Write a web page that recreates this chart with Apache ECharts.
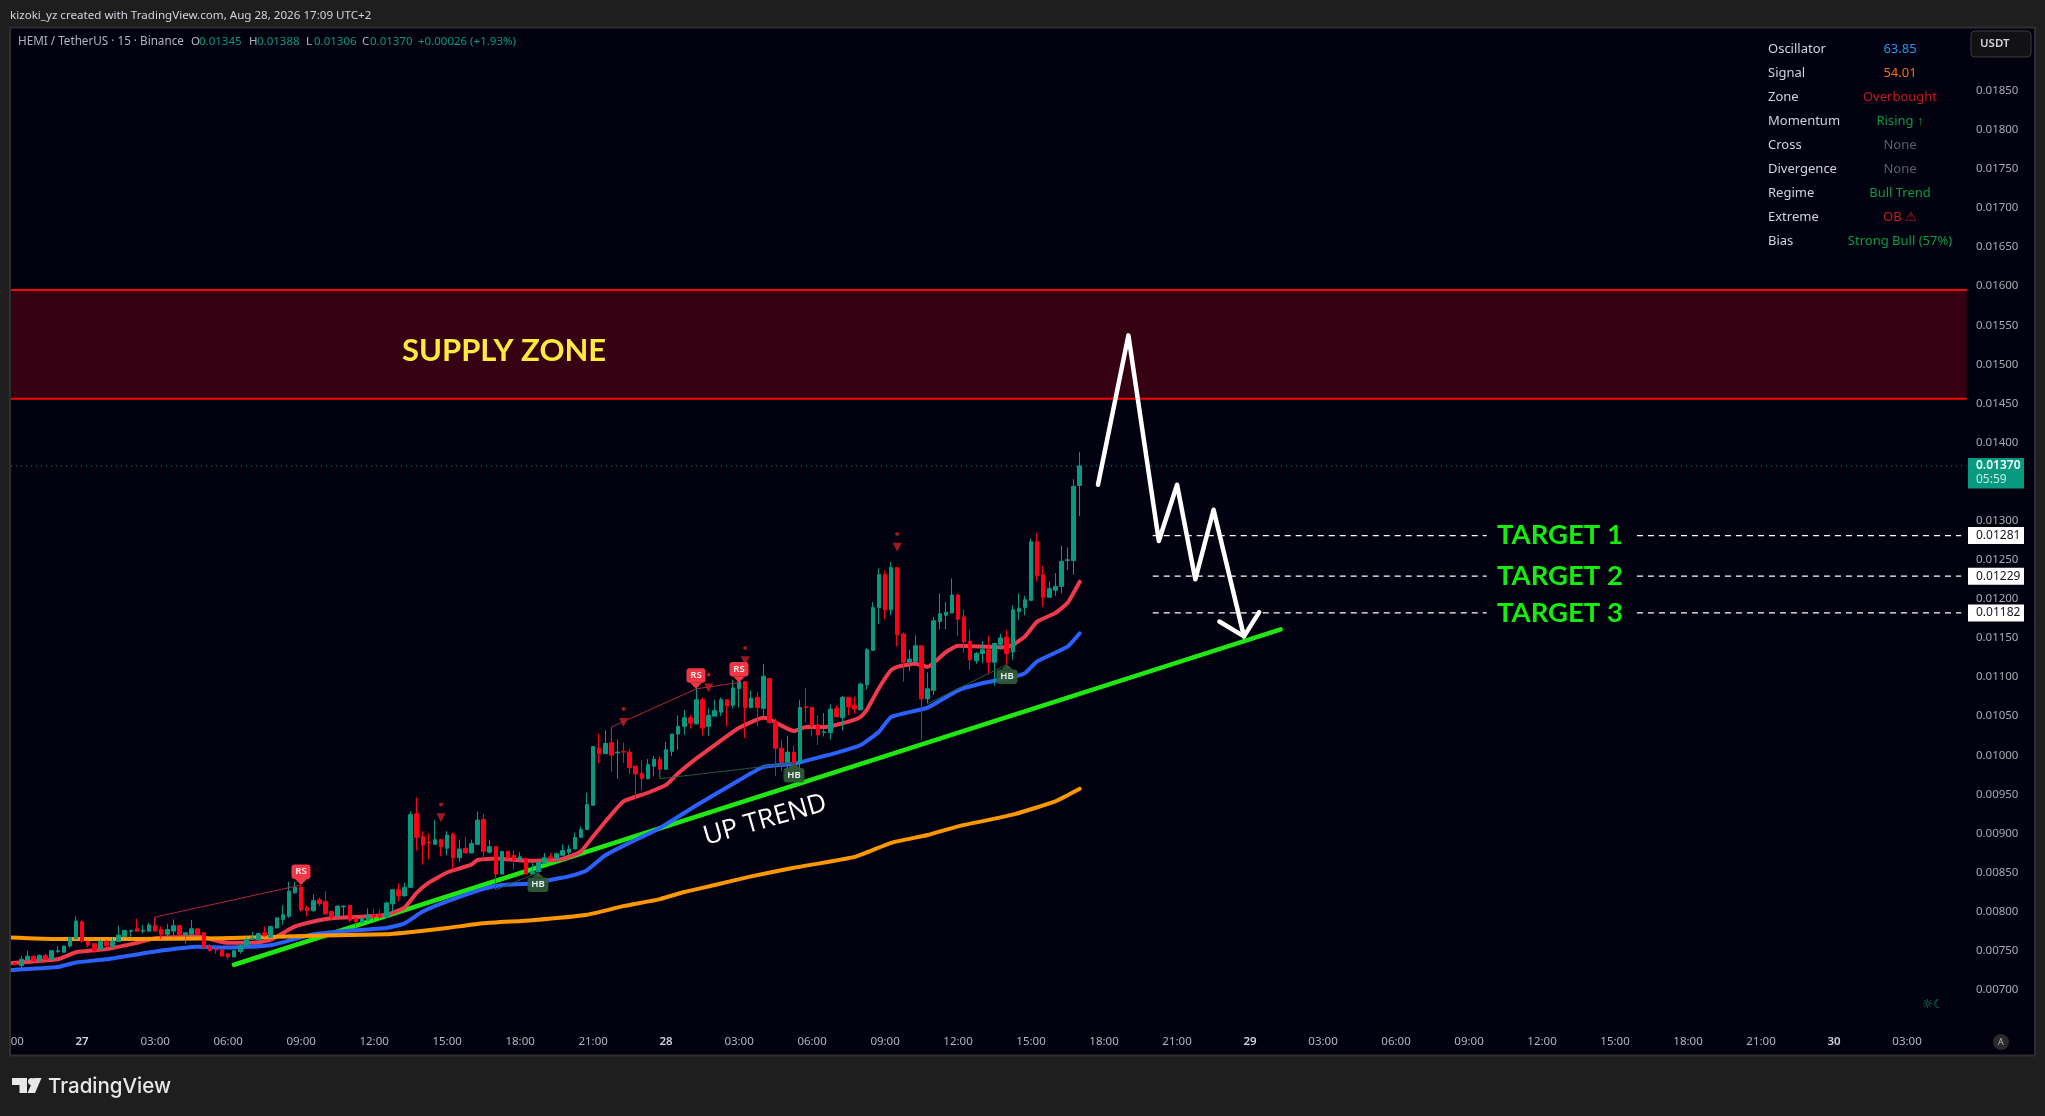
<!DOCTYPE html>
<html><head><meta charset="utf-8">
<style>html,body{margin:0;padding:0;background:#1e1e1e}#c{width:2045px;height:1116px}</style>
<script src="https://cdn.jsdelivr.net/npm/echarts@6/dist/echarts.min.js"></script>
</head><body><div id="c"></div><script>
// All prices below are in units of 0.00001 USDT
const UNIT = 1e-5;
const timeLabels = ['21:00','27','03:00','06:00','09:00','12:00','15:00','18:00','21:00','28','03:00','06:00','09:00','12:00','15:00','18:00','21:00','29','03:00','06:00','09:00','12:00','15:00','18:00','21:00','30','03:00'];
const candleOpen = [750,734,731,738,743,737,744,739,749,748,756,765,787,762,759,752,762,756,762,768,775,778,775,775,782,777,771,775,782,770,771,778,773,756,752,751,746,742,749,756,765,764,773,767,779,790,794,824,831,805,801,815,813,800,794,806,808,791,786,789,796,796,793,810,828,820,831,925,896,889,886,892,881,899,869,881,875,886,918,876,883,848,877,872,866,868,848,851,862,870,868,872,876,880,895,905,936,1009,1002,1016,1003,1005,1004,986,977,970,986,995,982,1005,1027,1037,1048,1040,1071,1037,1050,1055,1071,1064,1085,1094,1061,1074,1060,1098,1043,1009,991,1004,990,1062,1061,1039,1029,1029,1060,1048,1074,1064,1058,1090,1134,1189,1231,1186,1240,1155,1119,1120,1140,1072,1083,1171,1179,1182,1205,1177,1146,1121,1130,1135,1119,1142,1151,1132,1184,1189,1198,1273,1231,1202,1211,1216,1249,1249,1345];
const candleClose = [734,733,739,743,737,744,739,750,750,756,767,788,762,757,750,762,756,762,770,776,776,775,776,783,775,771,777,782,770,773,778,771,754,750,751,743,742,750,756,764,766,772,769,781,792,796,826,831,802,801,814,810,797,793,807,807,789,787,791,796,794,793,811,828,820,831,924,895,885,888,892,883,898,869,880,875,887,917,877,883,848,877,869,866,870,848,851,863,869,869,874,878,880,895,905,937,1011,1002,1015,1000,1004,1004,984,976,970,988,995,982,1007,1027,1037,1048,1041,1071,1035,1051,1057,1071,1063,1086,1094,1061,1073,1061,1101,1042,1009,991,1004,989,1061,1061,1038,1026,1030,1059,1049,1074,1062,1059,1091,1135,1189,1231,1186,1240,1154,1119,1123,1140,1072,1085,1172,1181,1183,1205,1174,1145,1122,1130,1135,1119,1143,1150,1130,1186,1188,1199,1273,1230,1202,1213,1216,1248,1250,1344,1370];
const candleLow = [732,731,727,738,736,735,738,739,747,747,754,765,760,754,747,752,755,753,762,768,767,775,772,775,775,765,768,767,769,759,771,770,754,749,746,743,739,742,746,756,765,763,768,767,779,783,792,823,800,794,800,807,797,789,794,794,786,780,785,789,789,791,792,800,813,820,830,878,860,867,886,871,872,853,864,875,875,885,868,874,828,848,863,854,865,848,847,851,861,865,865,871,872,880,894,905,936,990,1002,979,970,990,976,944,955,969,973,970,982,999,1007,1026,1034,1040,1025,1025,1050,1050,1037,1060,1061,1022,1060,1037,1048,1040,973,979,979,989,976,1042,1024,1013,1024,1020,1049,1032,1051,1053,1058,1084,1134,1168,1174,1179,1139,1094,1108,1120,1020,1066,1077,1161,1161,1182,1152,1131,1109,1117,1118,1103,1089,1135,1115,1122,1173,1179,1198,1222,1190,1202,1204,1207,1237,1231,1306];
const candleHigh = [750,735,743,750,744,745,746,750,756,756,767,794,789,763,759,764,763,767,782,776,776,791,783,786,793,781,784,790,782,773,789,778,773,759,754,751,746,750,759,767,774,773,781,781,792,808,838,838,834,808,822,818,826,800,808,808,808,793,791,804,803,803,813,828,836,837,928,946,903,900,917,893,903,901,892,895,892,928,925,892,884,877,878,878,876,869,862,864,875,875,875,886,885,901,909,952,1011,1027,1032,1036,1020,1016,1008,987,994,995,999,999,1017,1027,1051,1058,1051,1086,1074,1060,1071,1074,1071,1096,1109,1095,1083,1081,1117,1098,1047,1019,1025,1012,1071,1086,1062,1051,1054,1065,1064,1076,1074,1075,1093,1137,1196,1239,1236,1247,1240,1157,1135,1153,1140,1106,1177,1207,1196,1226,1207,1186,1161,1132,1146,1153,1143,1155,1160,1192,1207,1204,1277,1284,1242,1222,1233,1268,1266,1353,1388];
const emaRed = [[0,734],[8,739],[11,748],[16,752],[21,760],[24,766],[31,768],[36,760],[40,760],[43,764],[47,781],[51,789],[54,792],[57,793],[62,796],[65,805],[67,824],[69,837],[72,850],[76,860],[77,866],[80,868],[85,865],[90,866],[92,870],[94,877],[96,896],[98,915],[101,941],[105,952],[108,962],[110,977],[113,996],[116,1013],[120,1035],[124,1048],[125,1046],[129,1031],[131,1036],[134,1036],[138,1043],[140,1049],[141,1058],[143,1086],[145,1109],[146,1113],[149,1117],[151,1113],[154,1132],[156,1140],[163,1138],[165,1141],[167,1152],[169,1171],[172,1182],[174,1195],[176,1222]];
const emaBlue = [[0,725],[8,729],[11,735],[16,739],[24,749],[31,755],[36,754],[43,757],[50,771],[55,775],[62,779],[65,785],[68,800],[72,813],[78,829],[81,834],[86,836],[90,842],[92,845],[95,853],[98,872],[102,888],[107,907],[113,936],[120,968],[124,985],[129,989],[132,995],[136,1003],[140,1013],[143,1030],[145,1049],[151,1061],[156,1083],[160,1092],[165,1100],[167,1105],[169,1120],[174,1139],[176,1156]];
const emaOrange = [[0,767],[8,765],[20,765],[35,766],[50,769],[62,771],[65,773],[72,779],[78,785],[86,789],[95,796],[101,807],[107,816],[111,825],[116,834],[122,845],[129,856],[139,870],[145,888],[151,898],[156,909],[165,924],[172,941],[176,957]];
const trendLine = [[36.97,732],[209.04,1161]];
const zigzag = [[179,1346],[184,1537],[189,1274],[192,1346],[195,1225],[198,1314],[203,1152]];
const arrowHead = [[198.95,1171],[203,1152],[205.5,1183]];
const supplyTop = 1595, supplyBottom = 1456, lastPrice = 1370;
const targets = [{name:'TARGET 1',price:1281},{name:'TARGET 2',price:1229},{name:'TARGET 3',price:1182}];
const targetSpan = [188,242.9,267.6,320.9];
const redLinks = [[[24,782],[24,793],[48,834]],[[99,1016],[99,1036],[113,1085],[120,1093]]];
const greenLinks = [[[80,828],[87,850]],[[107,982],[107,970],[129,990]],[[151,1066],[164,1116]]];
const rsTags = [[48,834],[113,1085],[120,1093]];
const hbTags = [[87,850],[129,990],[164,1116]];
const triangles = [[71,920],[101,1042],[115,1086],[121,1121],[146,1266]];
const dots = [[71,937],[101,1059],[115,1103],[121,1137],[146,1283]];
const panelLabels = ['Oscillator','Signal','Zone','Momentum','Cross','Divergence','Regime','Extreme','Bias'];
const panelValues = ['63.85','54.01','Overbought','Rising ↑','None','None','Bull Trend','OB ⚠','Strong Bull (57%)'];
const panelColors = ['#2196f3','#ff6d00','#c8191e','#0a9a46','#5d606b','#5d606b','#0a9a46','#c8191e','#0a9a46'];
const ohlc = [['O','0.01345',191],['H','0.01388',249],['L','0.01306',306],['C','0.01370',362]];

const SANS = '"Noto Sans",sans-serif';
const px = a => a.map(p => [p[0], p[1]*UNIT]);
const N = 323;
const categories = Array.from({length:N},(_,i)=> i%12===0 ? (timeLabels[i/12]||'') : '');
const candles = candleOpen.map((o,i)=>[o*UNIT,candleClose[i]*UNIT,candleLow[i]*UNIT,candleHigh[i]*UNIT]);
const lineBase = {type:'line',xAxisIndex:1,yAxisIndex:0,showSymbol:false,symbol:'none',silent:true,smooth:false,animation:false};
const poly = (data,color,width,z,extra={},opts={}) => Object.assign({},lineBase,{data:px(data),z,lineStyle:Object.assign({color,width,cap:'round',join:'round'},extra)},opts);
const soft = {smooth:0.15};

const series = [];
series.push(Object.assign({},lineBase,{data:[],z:1,markArea:{silent:true,itemStyle:{color:'#360113'},data:[[{coord:[-0.5,supplyTop*UNIT]},{coord:[321.8,supplyBottom*UNIT]}]]}}));
[supplyTop,supplyBottom].forEach(p=>series.push(poly([[-0.5,p],[321.8,p]],'#ff0000',2,2,{cap:'butt'})));
series.push(poly([[-0.5,lastPrice],[321.8,lastPrice]],'#089981',1,2,{type:[1,4],cap:'butt'}));
targets.forEach(t=>{
  series.push(poly([[targetSpan[0],t.price],[targetSpan[1],t.price]],'#ffffff',1.3,2,{type:[6,5],cap:'butt'}));
  series.push(poly([[targetSpan[2],t.price],[targetSpan[3],t.price]],'#ffffff',1.3,2,{type:[6,5],cap:'butt'}));
});
series.push(poly(trendLine,'#1ee80f',4.5,3));
series.push(poly(emaRed,'#ee3a4c',4,4,{},soft));
series.push(poly(emaBlue,'#2962ff',4,4,{},soft));
series.push(poly(emaOrange,'#ff9800',4,4,{},soft));
series.push({type:'candlestick',data:candles,xAxisIndex:0,yAxisIndex:0,barWidth:4,z:5,silent:true,animation:false,
  itemStyle:{color:'#089981',color0:'#ff0018',borderColor:'#089981',borderColor0:'#ff0018',borderWidth:1}});
redLinks.forEach(l=>series.push(poly(l,'#b0263a',1,6,{cap:'butt'})));
greenLinks.forEach(l=>series.push(poly(l,'#24583a',1,6,{cap:'butt'})));
series.push({type:'scatter',xAxisIndex:1,yAxisIndex:0,data:px(triangles),symbol:'triangle',symbolRotate:180,symbolSize:[9,9],z:7,silent:true,itemStyle:{color:'#c81e24'}});
series.push({type:'scatter',xAxisIndex:1,yAxisIndex:0,data:px(dots),symbol:'circle',symbolSize:4,z:7,silent:true,itemStyle:{color:'#c81e24'}});
function tagSeries(points,kind){
  return {type:'custom',xAxisIndex:1,yAxisIndex:0,z:8,silent:true,data:px(points),encode:{x:0,y:1},clip:false,
    renderItem:(p,api)=>{
      const c = api.coord([api.value(0),api.value(1)]);
      const X=Math.round(c[0]), Y=c[1], w=kind==='RS'?19:21, h=14.5;
      const fill = kind==='RS'?'#f23645':'rgba(48,92,58,0.92)';
      const top = kind==='RS'?Y-6-h:Y+5;
      const tip = kind==='RS'?[[X-6,Y-6],[X+6,Y-6],[X,Y]]:[[X-6,Y+5],[X+6,Y+5],[X,Y]];
      return {type:'group',children:[
        {type:'rect',shape:{x:X-w/2,y:top,width:w,height:h,r:3},style:{fill}},
        {type:'polygon',shape:{points:tip},style:{fill}},
        {type:'text',x:X,y:top+h/2,style:{text:kind,fill:'#ecf2ee',font:'600 9.5px '+SANS,align:'center',verticalAlign:'middle'}}
      ]};
    }};
}
series.push(tagSeries(rsTags,'RS'));
series.push(tagSeries(hbTags,'HB'));
series.push(poly(zigzag,'#ffffff',4.5,9));
series.push(poly(arrowHead,'#ffffff',4.5,9));
// text annotations anchored on data coordinates
const annotations = [
  {text:'SUPPLY ZONE',at:[81.36,1517],font:'bold 31px Lato,'+SANS,fill:'#ffeb3b',align:'center',rot:0},
  {text:'UP TREND',at:[124.3,917],font:'26.5px "Open Sans",'+SANS,fill:'#ffffff',align:'center',rot:16*Math.PI/180},
].concat(targets.map(t=>({text:t.name,at:[244.6,t.price],font:'bold 27.5px Lato,'+SANS,fill:'#14ee0a',align:'left',rot:0})));
series.push({type:'custom',xAxisIndex:1,yAxisIndex:0,z:9,silent:true,clip:false,encode:{x:0,y:1},
  data:annotations.map(a=>[a.at[0],a.at[1]*UNIT]),
  renderItem:(p,api)=>{const a=annotations[p.dataIndex];const c=api.coord([api.value(0),api.value(1)]);
    return {type:'text',x:c[0],y:c[1],rotation:a.rot,style:{text:a.text,font:a.font,fill:a.fill,align:a.align,verticalAlign:'middle'}};}});
// price tags on the right axis
const priceTags = [{p:lastPrice,bg:'#089981',t:'0.01370',sub:'05:59',fg:'#ffffff'}].concat(targets.map(t=>({p:t.price,bg:'#ffffff',t:(t.price*UNIT).toFixed(5),fg:'#131722'})));
series.push({type:'custom',xAxisIndex:1,yAxisIndex:0,z:10,silent:true,clip:false,encode:{x:0,y:1},
  data:priceTags.map(t=>[320,t.p*UNIT]),
  renderItem:(p,api)=>{const t=priceTags[p.dataIndex];const Y=api.coord([api.value(0),api.value(1)])[1];const X=1968,W=56;
    if(t.sub) return {type:'group',children:[
      {type:'rect',shape:{x:X,y:Y-8,width:W,height:30.5},style:{fill:t.bg}},
      {type:'text',x:X+8,y:Y,style:{text:t.t,font:'600 12px '+SANS,fill:t.fg,verticalAlign:'middle'}},
      {type:'text',x:X+8,y:Y+14,style:{text:t.sub,font:'12px '+SANS,fill:'#c6ebe3',verticalAlign:'middle'}}]};
    return {type:'group',children:[
      {type:'rect',shape:{x:X,y:Y-8.5,width:W,height:17},style:{fill:t.bg}},
      {type:'text',x:X+8,y:Y,style:{text:t.t,font:'12px '+SANS,fill:t.fg,verticalAlign:'middle'}}]};
  }});

const FRAME='#1e1e1e';
const txt=(x,y,text,fill,font,z=60,align='left')=>({type:'text',x,y,z,silent:true,style:{text,fill,font,align,verticalAlign:'middle'}});
const graphics=[
  {type:'rect',z:50,silent:true,shape:{x:0,y:0,width:2045,height:27},style:{fill:FRAME}},
  {type:'rect',z:50,silent:true,shape:{x:0,y:0,width:10,height:1116},style:{fill:FRAME}},
  {type:'rect',z:50,silent:true,shape:{x:2035,y:0,width:10,height:1116},style:{fill:FRAME}},
  {type:'rect',z:50,silent:true,shape:{x:0,y:1056,width:2045,height:60},style:{fill:FRAME}},
  {type:'rect',z:51,silent:true,shape:{x:10,y:27.5,width:2025,height:1028},style:{fill:'none',stroke:'#2e2e32',lineWidth:2}},
  txt(10,15.5,'kizoki_yz created with TradingView.com, Aug 28, 2026 17:09 UTC+2','#d1d4dc','11.6px '+SANS),
  txt(18,42,'HEMI / TetherUS · 15 · Binance','#b2b5be','11.7px '+SANS),
  txt(418,42,'+0.00026 (+1.93%)','#089981','11.5px '+SANS),
  // USDT button
  {type:'rect',z:60,silent:true,shape:{x:1971,y:31,width:60,height:26,r:4},style:{fill:'#121214',stroke:'#3a3a3e',lineWidth:1}},
  txt(1980,44,'USDT','#d1d4dc','600 11.5px '+SANS),
  // auto-scale + theme glyphs
  {type:'circle',z:60,silent:true,shape:{cx:2001,cy:1042,r:8},style:{fill:'#2a2a2e'}},
  txt(2001,1042,'A','#b2b5be','9px '+SANS,61,'center'),
  txt(1933,1005,'☼☾','#089981','12px "DejaVu Sans"',60,'center'),
  // logo
  {type:'polygon',z:60,silent:true,shape:{points:[[12,1078],[27,1078],[27,1093],[19.5,1093],[19.5,1085],[12,1085]]},style:{fill:'#e8e8e8'}},
  {type:'circle',z:60,silent:true,shape:{cx:31.5,cy:1081.5,r:3.5},style:{fill:'#e8e8e8'}},
  {type:'polygon',z:60,silent:true,shape:{points:[[34,1078],[41.5,1078],[35,1093],[27.5,1093]]},style:{fill:'#e8e8e8'}},
  txt(48,1087,'TradingView','#e8e8e8','500 20.5px Inter,'+SANS),
];
ohlc.forEach(o=>{graphics.push(txt(o[2],42,o[0],'#b2b5be','11.5px '+SANS));graphics.push(txt(o[2]+8,42,o[1],'#089981','11.5px '+SANS));});
panelLabels.forEach((l,i)=>{
  const y=49+24.05*i;
  graphics.push(txt(1768,y,l,'#d1d4dc','13px '+SANS));
  graphics.push(txt(1900,y,panelValues[i],panelColors[i],'13px '+SANS,60,'center'));
});

const chart=echarts.init(document.getElementById('c'),null,{renderer:'canvas'});
chart.setOption({
  animation:false,backgroundColor:'#02010f',
  grid:{left:6.07,right:74.1,top:12.52,bottom:48.05,containLabel:false,outerBoundsMode:'none'},
  tooltip:{show:false},legend:{show:false},
  xAxis:[
    {type:'category',data:categories,boundaryGap:true,axisLine:{show:false},axisTick:{show:false},splitLine:{show:false},
     axisLabel:{inside:true,margin:20,interval:i=>i%12===0,color:'#b2b5be',fontFamily:'"Noto Sans"',fontSize:11.5,
       formatter:v=>/^\d\d$/.test(v)?'{d|'+v+'}':v,rich:{d:{color:'#d1d4dc',fontWeight:600,fontFamily:'"Noto Sans"',fontSize:11.5}}}},
    {type:'value',min:-0.5,max:322.5,show:false,splitLine:{show:false}}
  ],
  yAxis:[{type:'value',position:'right',min:0.006,max:0.0195,interval:0.0005,scale:true,axisLine:{show:false},axisTick:{show:false},splitLine:{show:false},
    axisLabel:{margin:5,color:'#a8abb3',fontFamily:'"Noto Sans"',fontSize:11.5,showMinLabel:true,showMaxLabel:true,
      formatter:v=>{const s=v.toFixed(5);return (v<0.00699||v>0.01851||s==='0.01350')?'':s;}}}],
  series,graphic:{elements:graphics}
});
</script></body></html>
